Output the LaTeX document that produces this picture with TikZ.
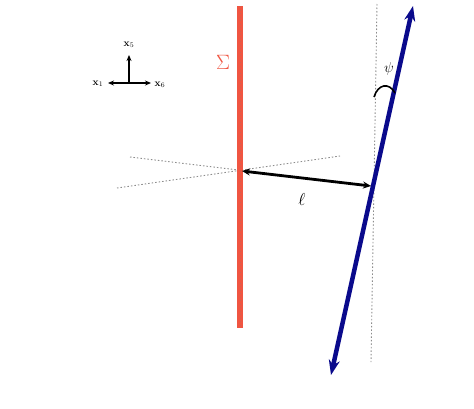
\documentclass[tikz,border=0pt]{standalone}
\usetikzlibrary{arrows.meta}
\definecolor{sigred}{RGB}{240,85,65}
\definecolor{lineblue}{RGB}{10,10,140}
\tikzset{
  guide/.style={gray!90, dash pattern=on 1.5pt off 2pt, line width=0.9pt},
  axisarrow/.style={-{Stealth[length=6pt,width=5pt]}, line width=1.6pt},
  axlabel/.style={font=\fontsize{10}{11}\selectfont, inner sep=0pt},
}
\begin{document}
\begin{tikzpicture}[x=1pt,y=-1pt]
\useasboundingbox (0,0) rectangle (474,408);
% coordinates
\coordinate (d1a) at (130,157);
\coordinate (d1b) at (372,186);
\coordinate (d2a) at (117,188);
\coordinate (d2b) at (340,156);
\coordinate (vtop) at (377,4);
\coordinate (vbot) at (371,362);
% dotted guides
\draw[guide] (d1a) -- (d1b);
\draw[guide] (d2a) -- (d2b);
\draw[guide] (vtop) -- (vbot);
% red sheet
\coordinate (rtop) at (240,6);
\coordinate (rbot) at (240,328);
\draw[sigred, line width=5.5pt] (rtop) -- (rbot);
\draw[sigred!70!gray, dash pattern=on 1pt off 2.5pt, line width=0.8pt] (rtop) -- (rbot);
\node[text=sigred, font=\fontsize{20}{22}\selectfont, inner sep=0pt] (sig) at (223,62) {$\Sigma$};
% distance arrow
\coordinate (pa) at (242,171);
\coordinate (pb) at (371,186);
\draw[{Stealth[length=8pt,width=7pt]}-{Stealth[length=8pt,width=7pt]}, line width=2.8pt] (pa) -- (pb);
\node[font=\fontsize{16}{18}\selectfont, inner sep=0pt] (ell) at (302,199) {$\ell$};
% blue line
\coordinate (bb) at (331,375);
\coordinate (bt) at (413,6);
\draw[lineblue, line width=4.5pt, {Stealth[length=15pt,width=11pt]}-{Stealth[length=15pt,width=11pt]}] (bb) -- (bt);
% angle
\node[font=\fontsize{14}{16}\selectfont, inner sep=0pt] (psi) at (389,69) {$\psi$};
\coordinate (a1) at (374,97);
\coordinate (a2) at (395,93);
\draw[line width=1.6pt] (a1) .. controls (378,84) and (389,82) .. (a2);
% axes
\coordinate (o) at (129,83);
\coordinate (oup) at (129,55);
\coordinate (ol) at (108,83);
\coordinate (or) at (151,83);
\draw[axisarrow] (o) -- (oup);
\draw[axisarrow] (o) -- (ol);
\draw[axisarrow] (o) -- (or);
\node[axlabel] (x5) at (129,45) {$\mathbf{x}_5$};
\node[axlabel] (x1) at (98,84) {$\mathbf{x}_1$};
\node[axlabel] (x6) at (160,85) {$\mathbf{x}_6$};
\end{tikzpicture}
\end{document}
